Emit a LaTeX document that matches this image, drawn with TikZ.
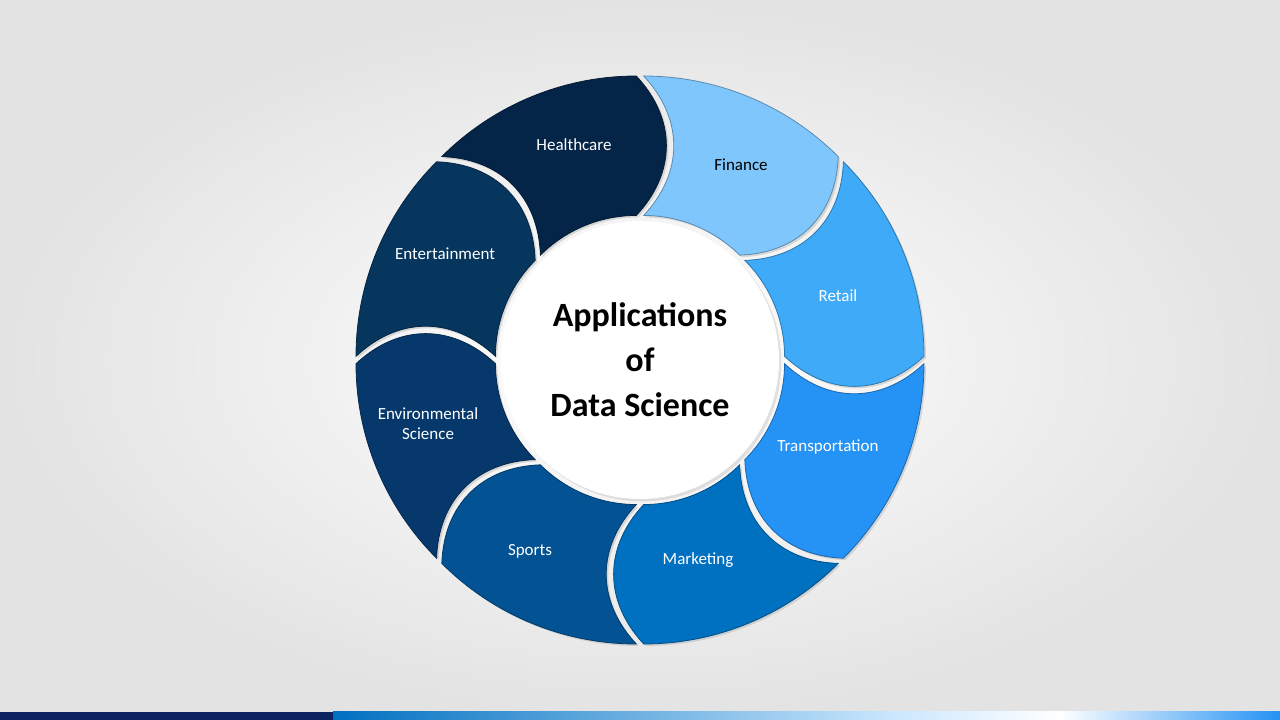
\documentclass[tikz,border=0pt]{standalone}
\usepackage{fontspec}
\setmainfont{Carlito}
\usetikzlibrary{shadows}
\definecolor{cFin}{HTML}{7FC6FC}
\definecolor{cRet}{HTML}{3FAAF8}
\definecolor{cTra}{HTML}{2592F5}
\definecolor{cMar}{HTML}{0070C0}
\definecolor{cSpo}{HTML}{035394}
\definecolor{cEnv}{HTML}{07386C}
\definecolor{cEnt}{HTML}{06355E}
\definecolor{cHea}{HTML}{042548}
\definecolor{navy}{HTML}{0B2360}
\tikzset{lbl/.style={font=\fontsize{17}{20}\selectfont, text=white, align=center}}
\begin{document}
\begin{tikzpicture}[x=1pt,y=1pt]
\useasboundingbox (0,0) rectangle (1280,720);
\shade[inner color=white, outer color=gray!22] (0,0) rectangle (1280,720);
\fill[navy] (0,0) rectangle (333,8);
\shade[left color=cMar, right color=cFin!40] (333,0) rectangle (900,8);
\shade[left color=cFin!40, right color=white] (900,0) rectangle (1060,8);
\shade[left color=white, right color=cTra] (1060,0) rectangle (1280,8);
\begin{scope}[shift={(640,360)}]
\foreach \a/\col in {90/cFin,45/cRet,0/cTra,-45/cMar,-90/cSpo,-135/cEnv,180/cEnt,135/cHea}{
  \pgfmathsetmacro{\b}{\a-45}
  \pgfmathsetmacro{\m}{\a-22.5}
  \begin{scope}[shift={(\m:215)}, scale=0.955, shift={({\m+180}:215)}]
  \filldraw[fill=\col, draw=\col!70!black, line width=0.8pt, drop shadow={opacity=0.25,shadow xshift=2pt,shadow yshift=-2pt}]
    (\a:288) arc[start angle=\a, end angle=\b, radius=288]
    .. controls ([shift={({\b-90}:42)}]\b:243) and ([shift={({\b-90}:42)}]\b:187) .. (\b:142)
    arc[start angle=\b, end angle=\a, radius=142]
    .. controls ([shift={({\a-90}:42)}]\a:187) and ([shift={({\a-90}:42)}]\a:243) .. (\a:288) -- cycle;
  \end{scope}
}
\node[circle, fill=white, minimum size=278pt, drop shadow={opacity=0.2}] (c) at (0,0) {};
\node[align=center, font=\fontsize{34}{45}\selectfont\bfseries] (t) at (c) {Applications\\of\\Data Science};
\end{scope}
\node[lbl] (hea) at (574,575) {Healthcare};
\node[lbl, text=black] (fin) at (741,555) {Finance};
\node[lbl] (ret) at (838,424) {Retail};
\node[lbl] (tra) at (828,273) {Transportation};
\node[lbl] (mar) at (698,160) {Marketing};
\node[lbl] (spo) at (530,169) {Sports};
\node[lbl] (env) at (428,296) {Environmental\\Science};
\node[lbl] (ent) at (445,466) {Entertainment};
\end{tikzpicture}
\end{document}
